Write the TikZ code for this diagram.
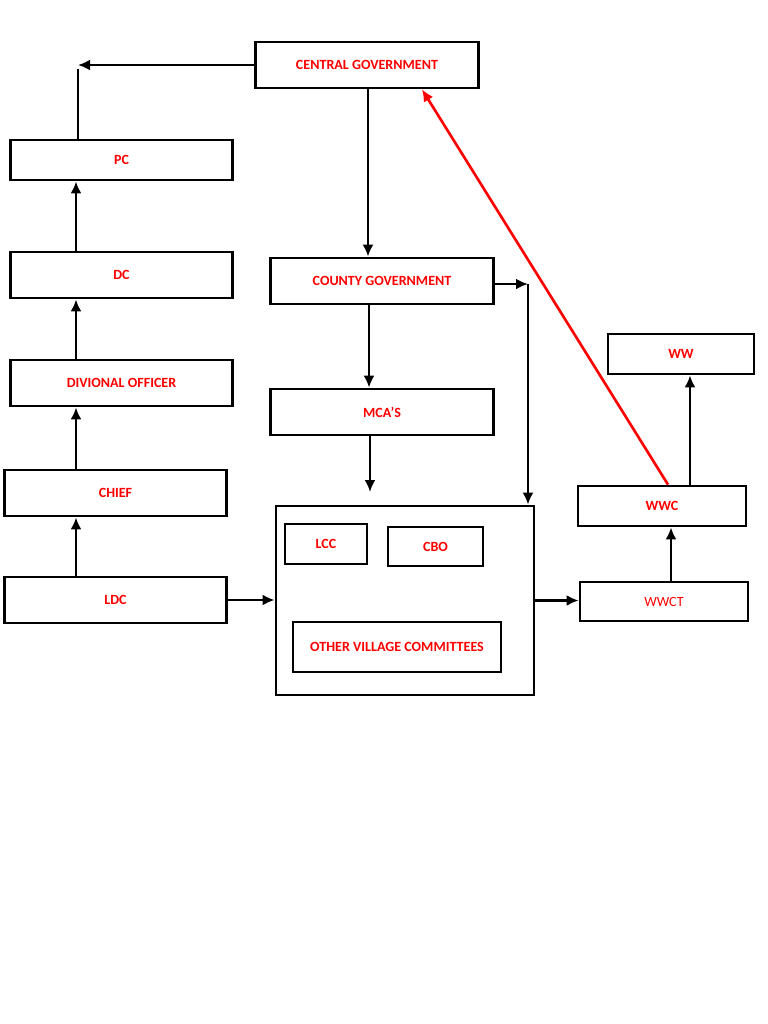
\documentclass[tikz,border=0pt]{standalone}
\usepackage{fontspec}
\setmainfont{Carlito}
\usetikzlibrary{arrows.meta,calc,positioning}

\begin{document}
\begin{tikzpicture}[>=Latex, font=\fontsize{8}{10}\selectfont\bfseries]

\tikzset{
    blk/.style={draw, line width=1.6pt, text=red, inner sep=0pt, minimum width=4.45cm, minimum height=0.92cm},
    arr/.style={-{Latex[length=2.4mm,width=2.2mm]}, line width=1.5pt},
    link/.style={line width=1.5pt}
}

\useasboundingbox (0,0) rectangle (15.36,-20.48);

% Colonna sinistra
\node[blk] (cg) at (7.34,-1.30) {CENTRAL GOVERNMENT};
\node[blk, minimum height=0.80cm] (pc) at (2.43,-3.20) {PC};
\node[blk] (dc) at (2.43,-5.50) {DC};
\node[blk] (do) at (2.43,-7.66) {DIVIONAL OFFICER};
\node[blk] (chief) at (2.31,-9.86) {CHIEF};
\node[blk] (ldc) at (2.31,-12.00) {LDC};

% Colonna centrale
\node[blk] (county) at (7.64,-5.62) {COUNTY GOVERNMENT};
\node[blk] (mca) at (7.64,-8.24) {MCA'S};
\node[blk, minimum width=5.16cm, minimum height=3.78cm] (vil) at (8.10,-12.01) {};
\node[blk, minimum width=1.64cm, minimum height=0.80cm] (lcc) at (6.52,-10.88) {LCC};
\node[blk, minimum width=1.90cm, minimum height=0.78cm] (cbo) at (8.71,-10.93) {CBO};
\node[blk, minimum width=4.16cm, minimum height=1.00cm] (ovc) at (7.94,-12.94) {OTHER VILLAGE COMMITTEES};

% Colonna destra
\node[blk, minimum width=2.92cm, minimum height=0.80cm] (ww) at (13.62,-7.08) {WW};
\node[blk, minimum width=3.36cm, minimum height=0.80cm] (wwc) at (13.24,-10.12) {WWC};
\node[blk, minimum width=3.36cm, minimum height=0.78cm, font=\fontsize{8}{10}\selectfont] (wwct) at (13.28,-12.03) {WWCT};

% Punti di appoggio
\coordinate (tl) at (1.56,-1.30);
\coordinate (cr) at (10.56,-5.68);
\coordinate (mend) at (7.40,-9.84);
\coordinate (xa) at (1.52,0);
\coordinate (xb) at (13.42,0);
\coordinate (xc) at (13.80,0);
\coordinate (xr) at (13.36,0);
\coordinate (xg) at (8.44,0);

% Frecce colonna sinistra
\draw[arr] (cg.west) -- (tl);
\draw[link] (pc.north -| tl) -- ($(tl)+(0,-0.08)$);
\draw[arr] (dc.north -| xa) -- (pc.south -| xa);
\draw[arr] (do.north -| xa) -- (dc.south -| xa);
\draw[arr] (chief.north -| xa) -- (do.south -| xa);
\draw[arr] (ldc.north -| xa) -- (chief.south -| xa);

% Frecce colonna centrale
\draw[arr] (cg.south -| county.north) ++(-0.28,0) coordinate (c1) -- (c1 |- county.north);
\draw[arr] (county.south -| mend) ++(-0.02,0) coordinate (c2) -- (c2 |- mca.north);
\draw[arr] (mca.south -| mend) -- (mend);
\draw[arr] (county.east |- cr) -- (cr);
\draw[arr] (cr) -- (cr |- vil.north);
\draw[arr] (ldc.east) -- (ldc.east -| vil.west);
\draw[arr] (vil.east) -- (vil.east -| wwct.west);

% Frecce colonna destra
\draw[arr] (wwct.north -| xb) -- (wwc.south -| xb);
\draw[arr] (wwc.north -| xc) -- (ww.south -| xc);
\draw[arr, red] (wwc.north -| xr) -- (cg.south -| xg);

\end{tikzpicture}
\end{document}
